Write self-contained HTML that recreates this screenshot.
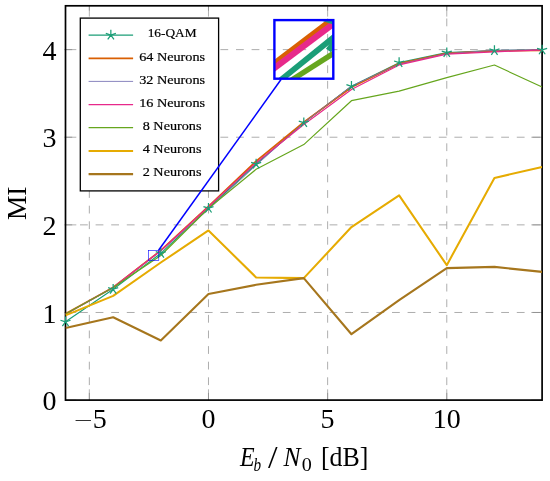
<!DOCTYPE html>
<html lang="en"><head><meta charset="utf-8"><title>MI vs Eb/N0</title>
<style>
html,body{margin:0;padding:0;background:#fff;}
body{width:550px;height:481px;overflow:hidden;}
svg{display:block;}
text{font-family:"Liberation Serif","DejaVu Serif",serif;fill:#000;}
.tick{font-size:28px;}
.lab{font-size:27.5px;}
.sub{font-size:19px;}
.leg{font-size:13.1px;stroke:#000;stroke-width:0.2px;}
</style></head><body>
<svg width="550" height="481" viewBox="0 0 550 481">
<rect x="0" y="0" width="550" height="481" fill="#fff"/>
<defs><clipPath id="ax"><rect x="65.50" y="5.80" width="476.60" height="394.30"/></clipPath>
<clipPath id="ins"><rect x="274.4" y="20.1" width="58.9" height="58.6"/></clipPath></defs>

<g stroke="#8a8a8a" stroke-width="0.7" stroke-dasharray="7.8 7.8" fill="none">
<path d="M89.33 400.70V5.8"/>
<path d="M208.48 400.70V5.8"/>
<path d="M327.63 400.70V5.8"/>
<path d="M446.78 400.70V5.8"/>
<path d="M64.4 312.48H542.1"/>
<path d="M64.4 224.86H542.1"/>
<path d="M64.4 137.23H542.1"/>
<path d="M64.4 49.61H542.1"/>
</g>
<g stroke="#7f7f7f" stroke-width="0.6" fill="none">
<path d="M89.33 400.1v-10.8M89.33 5.8v10.8"/>
<path d="M208.48 400.1v-10.8M208.48 5.8v10.8"/>
<path d="M327.63 400.1v-10.8M327.63 5.8v10.8"/>
<path d="M446.78 400.1v-10.8M446.78 5.8v10.8"/>
<path d="M65.5 400.10h10.8M542.1 400.10h-10.8"/>
<path d="M65.5 312.48h10.8M542.1 312.48h-10.8"/>
<path d="M65.5 224.86h10.8M542.1 224.86h-10.8"/>
<path d="M65.5 137.23h10.8M542.1 137.23h-10.8"/>
<path d="M65.5 49.61h10.8M542.1 49.61h-10.8"/>
</g>
<rect x="65.5" y="5.8" width="476.60" height="394.30" fill="none" stroke="#000" stroke-width="1.7"/>
<g clip-path="url(#ax)" fill="none" stroke-linejoin="round">
<polyline points="65.50,321.85 113.16,289.26 160.82,253.33 208.48,208.21 256.14,164.05 303.80,122.69 351.46,86.32 399.12,62.67 446.78,52.68 494.44,50.49 542.10,49.96" stroke="#1b9e77" stroke-width="1.2"/>
<polyline points="65.50,313.79 113.16,287.51 160.82,250.44 208.48,206.45 256.14,161.15 303.80,122.16 351.46,87.29 399.12,63.63 446.78,53.29 494.44,50.93 542.10,50.31" stroke="#d95f02" stroke-width="1.7"/>
<polyline points="65.50,314.23 113.16,287.86 160.82,250.88 208.48,209.43 256.14,165.27 303.80,122.69 351.46,86.06 399.12,64.07 446.78,53.55 494.44,50.31 542.10,49.70" stroke="#7570b3" stroke-width="0.85"/>
<polyline points="65.50,314.23 113.16,287.33 160.82,250.70 208.48,206.72 256.14,162.73 303.80,124.44 351.46,89.48 399.12,64.94 446.78,54.17 494.44,51.80 542.10,49.96" stroke="#e7298a" stroke-width="1.2"/>
<polyline points="65.50,313.97 113.16,287.51 160.82,255.52 208.48,208.38 256.14,169.30 303.80,144.59 351.46,100.69 399.12,91.06 446.78,77.65 494.44,65.03 542.10,87.03" stroke="#66a61e" stroke-width="1.2"/>
<polyline points="65.50,315.37 113.16,295.83 160.82,262.53 208.48,230.46 256.14,277.43 303.80,278.13 351.46,227.05 399.12,195.33 446.78,265.16 494.44,177.89 542.10,167.02" stroke="#e6ab02" stroke-width="2.05"/>
<polyline points="65.50,328.07 113.16,317.30 160.82,340.52 208.48,294.08 256.14,284.79 303.80,278.13 351.46,334.21 399.12,300.21 446.78,268.14 494.44,266.91 542.10,271.91" stroke="#a6761d" stroke-width="2.1"/>
</g>
<path d="M65.50 321.85L65.50 316.55M65.50 321.85L60.46 320.22M65.50 321.85L62.38 326.14M65.50 321.85L68.62 326.14M65.50 321.85L70.54 320.22" stroke="#1b9e77" stroke-width="1.25" fill="none" stroke-linecap="butt"/>
<path d="M113.16 289.26L113.16 283.96M113.16 289.26L108.12 287.62M113.16 289.26L110.04 293.55M113.16 289.26L116.28 293.55M113.16 289.26L118.20 287.62" stroke="#1b9e77" stroke-width="1.25" fill="none" stroke-linecap="butt"/>
<path d="M160.82 253.33L160.82 248.03M160.82 253.33L155.78 251.69M160.82 253.33L157.70 257.62M160.82 253.33L163.94 257.62M160.82 253.33L165.86 251.69" stroke="#1b9e77" stroke-width="1.25" fill="none" stroke-linecap="butt"/>
<path d="M208.48 208.21L208.48 202.91M208.48 208.21L203.44 206.57M208.48 208.21L205.36 212.50M208.48 208.21L211.60 212.50M208.48 208.21L213.52 206.57" stroke="#1b9e77" stroke-width="1.25" fill="none" stroke-linecap="butt"/>
<path d="M256.14 164.05L256.14 158.75M256.14 164.05L251.10 162.41M256.14 164.05L253.02 168.33M256.14 164.05L259.26 168.33M256.14 164.05L261.18 162.41" stroke="#1b9e77" stroke-width="1.25" fill="none" stroke-linecap="butt"/>
<path d="M303.80 122.69L303.80 117.39M303.80 122.69L298.76 121.05M303.80 122.69L300.68 126.98M303.80 122.69L306.92 126.98M303.80 122.69L308.84 121.05" stroke="#1b9e77" stroke-width="1.25" fill="none" stroke-linecap="butt"/>
<path d="M351.46 86.32L351.46 81.02M351.46 86.32L346.42 84.69M351.46 86.32L348.34 90.61M351.46 86.32L354.58 90.61M351.46 86.32L356.50 84.69" stroke="#1b9e77" stroke-width="1.25" fill="none" stroke-linecap="butt"/>
<path d="M399.12 62.67L399.12 57.37M399.12 62.67L394.08 61.03M399.12 62.67L396.00 66.95M399.12 62.67L402.24 66.95M399.12 62.67L404.16 61.03" stroke="#1b9e77" stroke-width="1.25" fill="none" stroke-linecap="butt"/>
<path d="M446.78 52.68L446.78 47.38M446.78 52.68L441.74 51.04M446.78 52.68L443.66 56.97M446.78 52.68L449.90 56.97M446.78 52.68L451.82 51.04" stroke="#1b9e77" stroke-width="1.25" fill="none" stroke-linecap="butt"/>
<path d="M494.44 50.49L494.44 45.19M494.44 50.49L489.40 48.85M494.44 50.49L491.32 54.78M494.44 50.49L497.56 54.78M494.44 50.49L499.48 48.85" stroke="#1b9e77" stroke-width="1.25" fill="none" stroke-linecap="butt"/>
<path d="M542.10 49.96L542.10 44.66M542.10 49.96L537.06 48.32M542.10 49.96L538.98 54.25M542.10 49.96L545.22 54.25M542.10 49.96L547.14 48.32" stroke="#1b9e77" stroke-width="1.25" fill="none" stroke-linecap="butt"/>
<rect x="80.3" y="18.1" width="138.30" height="172.80" fill="#fff" stroke="#000" stroke-width="1.3"/>
<path d="M88.6 35.1H133.1" stroke="#1b9e77" stroke-width="1.2" fill="none"/>
<path d="M110.85 35.10L110.85 29.80M110.85 35.10L105.81 33.46M110.85 35.10L107.73 39.39M110.85 35.10L113.97 39.39M110.85 35.10L115.89 33.46" stroke="#1b9e77" stroke-width="1.25" fill="none" stroke-linecap="butt"/>
<text class="leg" transform="translate(172.1 37.4) scale(1.02 1)" x="0" y="0" text-anchor="middle">16-QAM</text>
<path d="M88.6 58.3H133.1" stroke="#d95f02" stroke-width="1.7" fill="none"/>
<text class="leg" transform="translate(172.1 60.6) scale(1.085 1)" x="0" y="0" text-anchor="middle">64 Neurons</text>
<path d="M88.6 81.4H133.1" stroke="#7570b3" stroke-width="0.85" fill="none"/>
<text class="leg" transform="translate(172.1 83.7) scale(1.085 1)" x="0" y="0" text-anchor="middle">32 Neurons</text>
<path d="M88.6 104.6H133.1" stroke="#e7298a" stroke-width="1.2" fill="none"/>
<text class="leg" transform="translate(172.1 106.9) scale(1.085 1)" x="0" y="0" text-anchor="middle">16 Neurons</text>
<path d="M88.6 127.7H133.1" stroke="#66a61e" stroke-width="1.2" fill="none"/>
<text class="leg" transform="translate(172.1 130.0) scale(1.085 1)" x="0" y="0" text-anchor="middle">8 Neurons</text>
<path d="M88.6 150.9H133.1" stroke="#e6ab02" stroke-width="2.05" fill="none"/>
<text class="leg" transform="translate(172.1 153.2) scale(1.085 1)" x="0" y="0" text-anchor="middle">4 Neurons</text>
<path d="M88.6 174.1H133.1" stroke="#a6761d" stroke-width="2.1" fill="none"/>
<text class="leg" transform="translate(172.1 176.4) scale(1.085 1)" x="0" y="0" text-anchor="middle">2 Neurons</text>
<rect x="148.5" y="250.5" width="10.3" height="10" fill="none" stroke="#0000ff" stroke-width="0.6"/>
<path d="M158.6 250.3L281.2 79.3" stroke="#0000ff" stroke-width="1.5" fill="none"/>
<g clip-path="url(#ins)" fill="none" stroke-linecap="butt">
<path d="M270 68.6L340 15.3" stroke="#d95f02" stroke-width="8.7"/>
<path d="M270 71.45L340 18.85" stroke="#e7298a" stroke-width="6.15"/>
<path d="M277.9 82.3L338.1 33.7" stroke="#1b9e77" stroke-width="5.7"/>
<path d="M288.1 82.3L338.1 50.3" stroke="#66a61e" stroke-width="5.4"/>
<path d="M346.50 25.60L346.50 -5.10M346.50 25.60L317.30 16.11M346.50 25.60L328.45 50.44M346.50 25.60L364.55 50.44M346.50 25.60L375.70 16.11" stroke="#1b9e77" stroke-width="6.1" fill="none" stroke-linecap="butt"/>
</g>
<rect x="274.4" y="20.1" width="58.9" height="58.6" fill="none" stroke="#0000ff" stroke-width="2.4"/>
<text class="tick" x="56.5" y="410.1" text-anchor="end">0</text>
<text class="tick" x="56.5" y="322.5" text-anchor="end">1</text>
<text class="tick" x="56.5" y="234.9" text-anchor="end">2</text>
<text class="tick" x="56.5" y="147.2" text-anchor="end">3</text>
<text class="tick" x="56.5" y="59.6" text-anchor="end">4</text>
<text class="tick" x="208.5" y="428" text-anchor="middle">0</text>
<text class="tick" x="327.6" y="428" text-anchor="middle">5</text>
<text class="tick" x="446.8" y="428" text-anchor="middle">10</text>
<text class="tick" x="0" y="0" transform="translate(73.7 426.25) scale(1.18 0.6)">−</text>
<text class="tick" x="92.7" y="428">5</text>
<text class="lab" transform="translate(26.3 203.3) rotate(-90)" text-anchor="middle" x="0" y="0">MI</text>
<text class="lab" font-style="italic" transform="translate(239.9 466) scale(0.87 1.0)" x="0" y="0">E</text>
<text class="sub" font-style="italic" transform="translate(253.4 470.8) scale(0.8 1.0)" x="0" y="0">b</text>
<text class="lab"  transform="translate(267.9 467.9) scale(1.25 1.12)" x="0" y="0">/</text>
<text class="lab" font-style="italic" transform="translate(283.6 466) scale(0.93 1.0)" x="0" y="0">N</text>
<text class="sub"  transform="translate(301.7 470.8) scale(1.06 1.0)" x="0" y="0">0</text>
<text class="lab"  transform="translate(321.0 466) scale(0.94 1.0)" x="0" y="0">[dB]</text>
</svg></body></html>
